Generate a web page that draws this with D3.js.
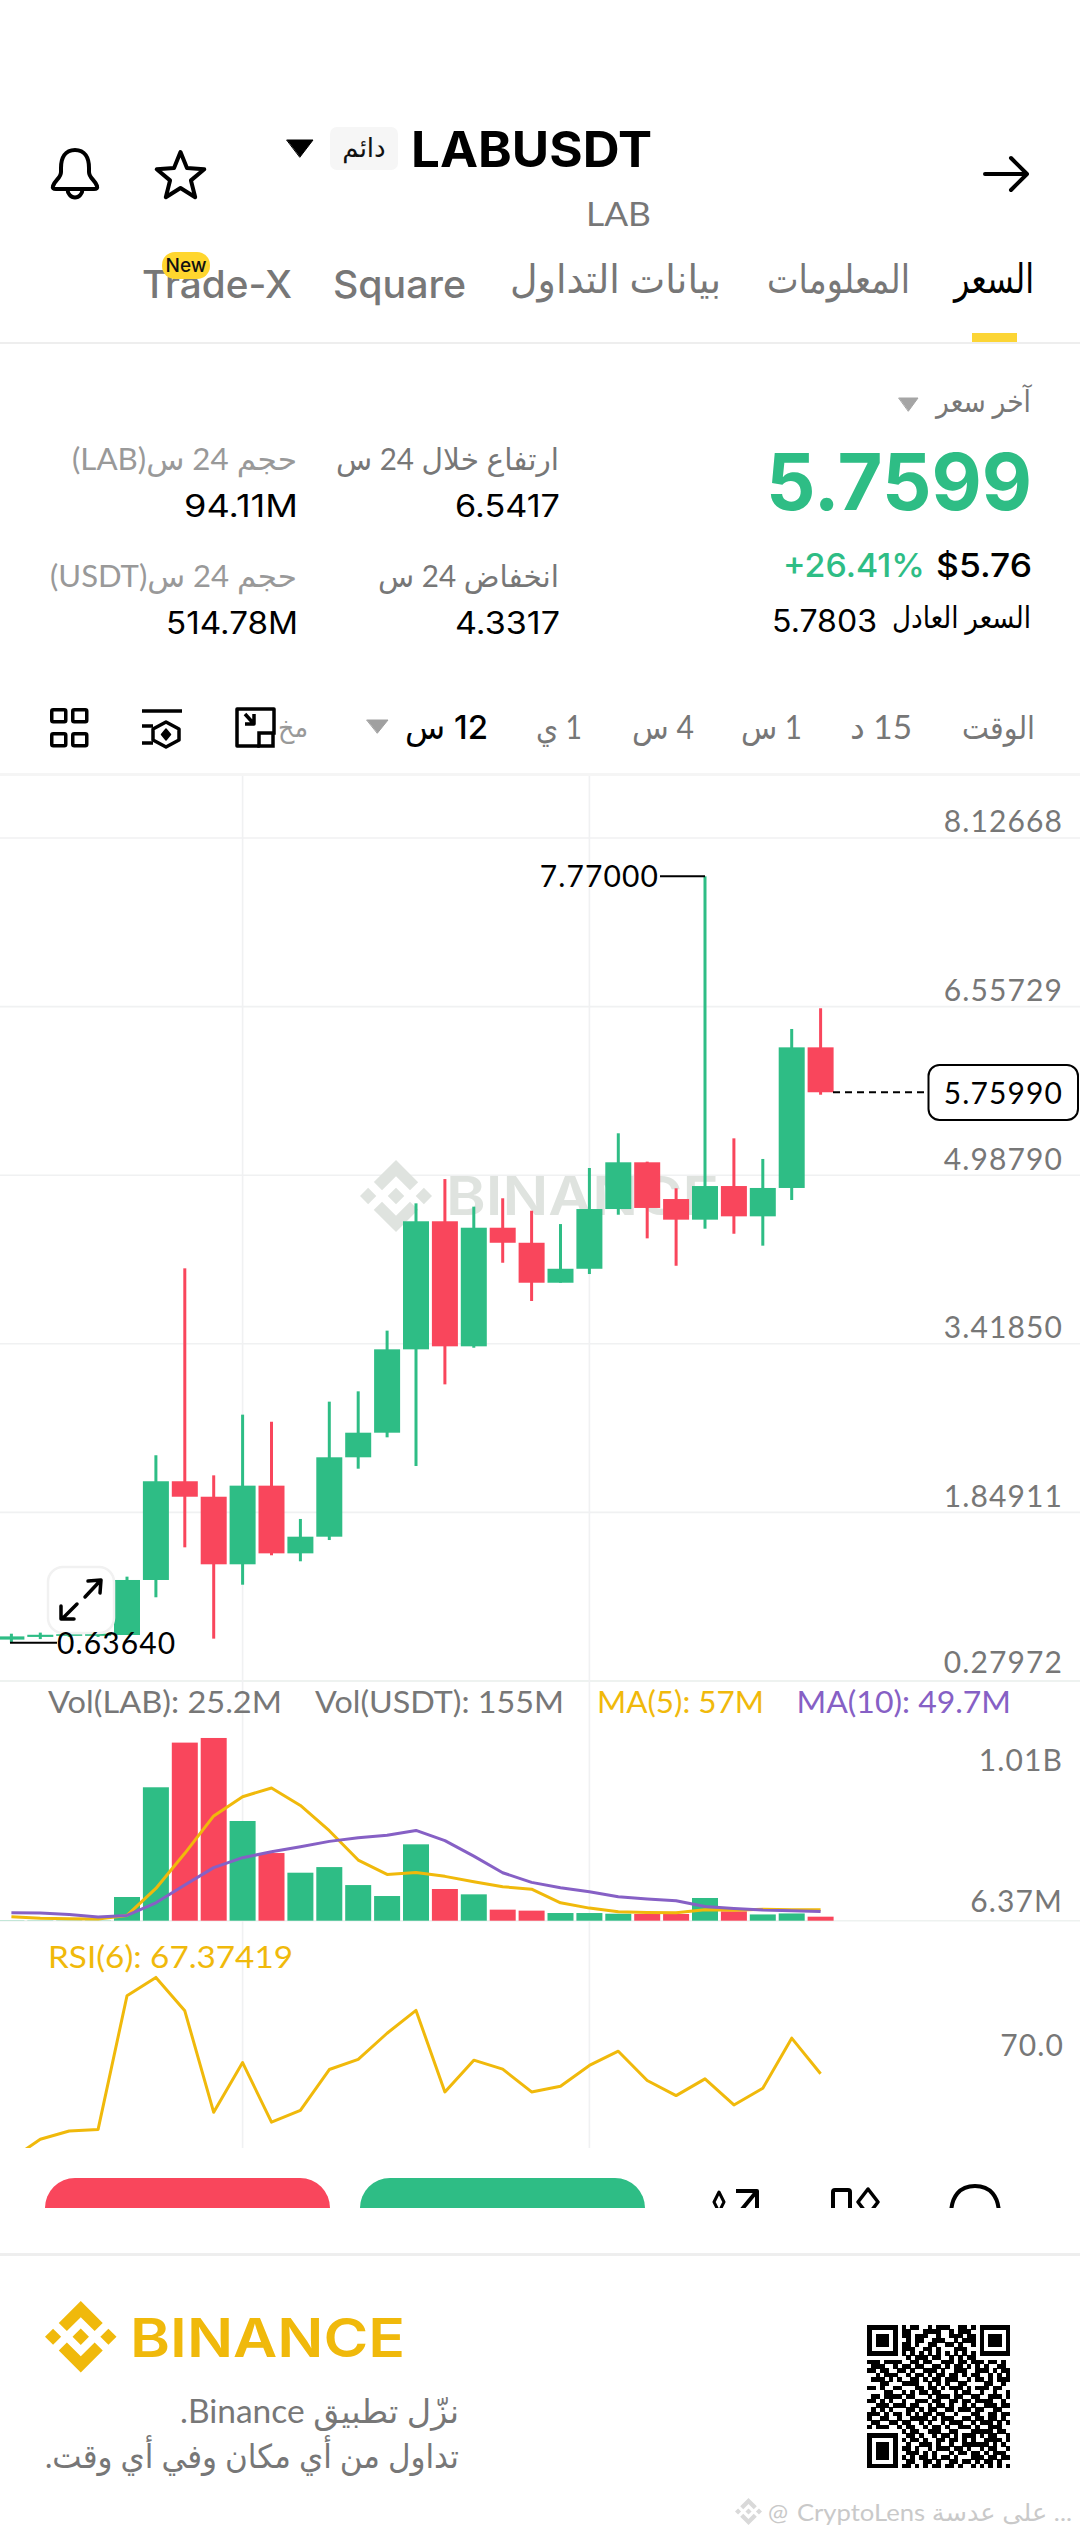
<!DOCTYPE html>
<html lang="ar">
<head>
<meta charset="utf-8">
<title>LABUSDT</title>
<script src="https://cdn.jsdelivr.net/npm/d3@7/dist/d3.min.js"></script>
<style>
html,body{margin:0;padding:0;background:#fff}
svg{display:block}
text{font-family:Lato,"DejaVu Sans",sans-serif}
</style>
</head>
<body>
<svg id="c" width="1080" height="2538" viewBox="0 0 1080 2538"></svg>
<script>
// ---------- data ----------
const candleIndex = d3.range(29);
const opens  = [.665,.690,.700,.700,.708,1.220,2.139,1.995,1.366,2.098,1.468,1.623,2.362,2.591,3.367,4.559,3.395,4.499,4.359,3.987,4.117,4.673,5.108,4.766,4.574,4.887,4.605,4.869,6.178];
const highs  = [.720,.730,.720,.730,1.251,2.381,4.121,2.194,2.759,2.693,1.788,2.880,2.976,3.541,4.726,4.952,4.695,4.773,4.657,4.533,5.055,5.378,5.114,4.866,7.770,5.331,5.139,6.349,6.5417];
const lows   = [.6364,.670,.690,.690,.708,1.059,1.524,.674,1.176,1.450,1.394,1.592,2.256,2.548,2.281,3.041,3.382,4.173,3.817,3.987,4.068,4.620,4.400,4.145,4.490,4.443,4.332,4.757,5.737];
const closes = [.695,.710,.715,.720,1.220,2.139,1.995,1.366,2.098,1.468,1.623,2.362,2.591,3.367,4.559,3.395,4.499,4.359,3.987,4.117,4.673,5.108,4.683,4.574,4.887,4.605,4.869,6.178,5.7599];
const priceTicks = [8.12668,6.55729,4.98790,3.41850,1.84911,0.27972];
const volumes = [8,8,8,8,175,956,1274,1307,716,488,348,388,260,182,550,232,194,85,78,61,61,56,54,54,168,73,51,58,35];
const ma5  = [35,23,21,18,44,236,486,752,889,951,827,647,438,336,350,322,284,248,231,134,96,70,65,63,85,80,87,85,85];
const ma10 = [63,61,51,32,44,134,260,384,455,497,533,571,597,614,649,576,466,348,279,241,213,177,161,149,108,94,82,77,72];
const volTicks = [1010,6.37];
const volTickLabels = ["1.01B","6.37M"];
const rsi6 = [46.4,51.3,53.3,53.7,86.5,91.0,82.8,57.9,70.1,55.5,58.4,68.4,70.9,77.3,82.9,62.9,70.7,68.5,62.9,64.3,69.4,72.9,65.7,62.0,66.1,59.7,63.8,76.1,67.37];
const rsiTicks = [70];
const verticalGridIdx = [8,20];
const tabs = ["السعر","المعلومات","بيانات التداول"];
const intervals = ["الوقت","15 د","1 س","4 س","1 ي"];
const qrRows = [
"111111101011001011100110101111111",
"100000101100011110010111001000001",
"101110101101110010011101101011101",
"101110100101100111001011101011101",
"101110101101001100110100101011101",
"100000101110011010001110001000001",
"111111101010101010101010101111111",
"000000000101110110010101100000000",
"111011110011011001110110111011010",
"011100101101100110101101010100110",
"110110011010011101001110011101011",
"001011100101101011011010110010101",
"011101010011010110111001011010111",
"000110001111001010100110000110010",
"110100110001101101011101011101100",
"000011001010110110001011001001001",
"011011110110001011101100110011101",
"110101001001110110011011011110010",
"001110111011001011010010100111011",
"010101000110101100110111011001100",
"111010110101011011001000110011011",
"100110010011110101110011011011010",
"011001101100101001011100101110101",
"101110010110010110100111010011100",
"000000001011001110011000111110110",
"111111100110100101101011101011001",
"100000101011010011011010100111101",
"101110100100111010010011111101010",
"101110101101001011101101001011001",
"101110100111010100010110110101110",
"101110101010110101101000111011011",
"100000100110011010011011010110100",
"111111101101010110110100101010101"];

// ---------- colours ----------
const GREEN="#2EBD85", RED="#F9465C", GOLD="#F0B90B", PURPLE="#8660C5", GRAY="#777777", LGRAY="#999999", GRID="#F0F1F2";
const LOGO_PATHS=[
"M38.73 53.2l24.59-24.58 24.6 24.6 14.3-14.31L63.32 0 24.41 38.9l14.32 14.3z",
"M0 63.31l14.3-14.31 14.31 14.31-14.31 14.3z",
"M38.73 73.41l24.59 24.59 24.6-24.6 14.31 14.29-38.9 38.91-38.91-38.88-.02-.02z",
"M98 63.31l14.3-14.31 14.31 14.3-14.31 14.32z",
"M77.83 63.3L63.32 48.78 52.59 59.51l-1.24 1.23-2.54 2.54 14.51 14.5 14.51-14.47z"];

const svg=d3.select("#c");
svg.append("rect").attr("width",1080).attr("height",2538).attr("fill","#fff");

function T(str,x,y,o={}){
  const t=svg.append("text").attr("x",x).attr("y",y).text(str)
    .attr("font-size",o.size||30).attr("fill",o.fill||"#000")
    .attr("font-weight",o.weight||400);
  if(o.rtl){t.attr("direction","rtl").attr("text-anchor","start");}
  else t.attr("text-anchor",o.anchor||"start");
  if(o.family)t.style("font-family",o.family);
  if(o.len)t.attr("textLength",o.len).attr("lengthAdjust","spacingAndGlyphs");
  return t;
}
function logo(x,y,s,fill,parent){
  const g=(parent||svg).append("g").attr("transform",`translate(${x},${y}) scale(${s/126.61})`);
  g.selectAll("path").data(LOGO_PATHS).join("path").attr("d",d=>d).attr("fill",fill);
  return g;
}
function P(d,o={}){
  return (o.parent||svg).append("path").attr("d",d).attr("fill",o.fill||"none")
    .attr("stroke",o.stroke===undefined?"#000":o.stroke).attr("stroke-width",o.w||3.5)
    .attr("stroke-linejoin","round").attr("stroke-linecap",o.cap||"round");
}

// ---------- header ----------
P("M75 150C65 150 61 158 61 168L61 172C61 178 55 180 53 186Q52 189 56 189L94 189Q98 189 97 186C95 180 89 178 89 172L89 168C89 158 85 150 75 150Z",{w:4});
P("M67.5 189a7.5 8.5 0 0 0 15 0",{w:4});
const starPts=d3.range(10).map(i=>[i*Math.PI/5,i%2?11:25]);
svg.append("path").attr("transform","translate(180.5,177)")
  .attr("d",d3.lineRadial().curve(d3.curveLinearClosed)(starPts))
  .attr("fill","none").attr("stroke","#000").attr("stroke-width",4).attr("stroke-linejoin","round");
P("M287 140L313 140L300 157Z",{fill:"#000",w:1});
svg.append("rect").attr("x",330).attr("y",127).attr("width",68).attr("height",43).attr("rx",7).attr("fill","#F6F6F6");
T("دائم",364,157,{size:26,anchor:"middle",fill:"#111"});
T("LABUSDT",411,167,{size:49,weight:700,len:241,family:"Inter,Lato,sans-serif"});
T("LAB",586,226,{size:32,fill:GRAY,len:65});
P("M985 174L1026 174M1011 158L1027 174L1011 190",{w:4});

T(tabs[0],1034,293,{size:41,rtl:true,len:80});
T(tabs[1],910,293,{size:39,rtl:true,fill:GRAY,len:143});
T(tabs[2],721,293,{size:39,rtl:true,fill:GRAY,len:211});
T("Square",333,298,{size:38,weight:500,fill:GRAY,len:133,family:"Inter,Lato,sans-serif"});
T("Trade-X",142,298,{size:38,weight:500,fill:GRAY,len:150,family:"Inter,Lato,sans-serif"});
svg.append("rect").attr("x",162).attr("y",252).attr("width",48).attr("height",27).attr("rx",13).attr("fill","#FFD62E");
T("New",186,272,{size:19,anchor:"middle",fill:"#111",weight:500,family:"Inter,Lato,sans-serif"});
svg.append("rect").attr("x",972).attr("y",333).attr("width",45).attr("height",9).attr("fill","#FCD535");
svg.append("rect").attr("x",0).attr("y",342).attr("width",1080).attr("height",2).attr("fill","#EEEEEE");

// ---------- ticker block ----------
T("آخر سعر",1031,412,{size:30,rtl:true,fill:GRAY,len:95});
P("M899 398L918 398L908.5 411Z",{fill:"#A5A5A5",stroke:"#A5A5A5",w:1});
T("5.7599",1032,510,{size:79,weight:700,fill:GREEN,anchor:"end",len:266,family:"Inter,Lato,sans-serif"});
T("+26.41%",783,577,{size:33,fill:GREEN,weight:500,len:142,family:"Inter,Lato,sans-serif"});
T("$5.76",936,577,{size:33,weight:500,len:96,family:"Inter,Lato,sans-serif"});
T("5.7803",772,632,{size:31,len:105,family:"Inter,Lato,sans-serif"});
T("السعر العادل",1031,628,{size:30,rtl:true,len:139});
T("ارتفاع خلال 24 س",559,470,{size:30,rtl:true,fill:GRAY,len:223});
T("حجم 24 س(LAB)",297,470,{size:30,rtl:true,fill:LGRAY,len:225});
T("6.5417",560,517,{size:31,anchor:"end",len:105,family:"Inter,Lato,sans-serif"});
T("94.11M",298,517,{size:31,anchor:"end",len:114,family:"Inter,Lato,sans-serif"});
T("انخفاض 24 س",559,587,{size:30,rtl:true,fill:GRAY,len:181});
T("حجم 24 س(USDT)",297,587,{size:30,rtl:true,fill:LGRAY,len:247});
T("4.3317",560,634,{size:31,anchor:"end",len:105,family:"Inter,Lato,sans-serif"});
T("514.78M",298,634,{size:31,anchor:"end",len:132,family:"Inter,Lato,sans-serif"});

// ---------- interval row ----------
const intRight=[1035,912,802,694,582], intLen=[73,62,61,62,46];
intervals.forEach((s,i)=>T(s,intRight[i],739,{size:32,rtl:true,fill:GRAY,len:intLen[i]}));
T("12 س",488,739,{size:33,rtl:true,weight:500,len:83,family:"Inter,'DejaVu Sans',sans-serif"});
P("M367 720L388 720L377.5 733Z",{fill:"#A0A0A0",stroke:"#A0A0A0",w:1});
T("مخ",308,737,{size:27,rtl:true,fill:LGRAY,len:30});
// grid icon
[[50,708],[71,708],[50,732],[71,732]].forEach(p=>svg.append("rect").attr("x",p[0]+1.75).attr("y",p[1]+1.75).attr("width",14).attr("height",12).attr("rx",1.5).attr("fill","none").attr("stroke","#000").attr("stroke-width",3.5));
// indicator icon
P("M142 711L182 711M142 726L153 726M142 743L153 743",{w:3.5,cap:"butt"});
P("M166 722L179 729L179 740L166 747L153 740L153 729Z",{w:3.5});
P("M166 729L170.5 734.5L166 740L161.5 734.5Z",{fill:"#000",w:1.5});
// layout icon
P("M274 733L274 709L237 709L237 746L258 746",{w:3.5,cap:"square"});
svg.append("rect").attr("x",259).attr("y",733).attr("width",14).attr("height",13).attr("fill","none").attr("stroke","#000").attr("stroke-width",3.5);
P("M245 714L254 724M254 714L254 724L245 724",{w:3.5,cap:"butt"});
svg.append("rect").attr("x",0).attr("y",773).attr("width",1080).attr("height",3).attr("fill","#F5F5F5");

// ---------- scales ----------
const x=d3.scaleLinear().domain([0,28]).range([11.4,820.6]);
const yPrice=d3.scaleLinear().domain([priceTicks[5],priceTicks[0]]).range([1681,838]);
const yVol=d3.scaleLinear().domain([6.37,1010]).range([1920.7,1779.7]);
const yRsi=d3.scaleLinear().domain([67.37419,70]).range([2073.7,2063]);

// ---------- grids ----------
const grid=svg.append("g");
grid.selectAll("line.h").data(priceTicks.slice(0,5)).join("line").attr("class","h")
  .attr("x1",0).attr("x2",1080).attr("y1",d=>yPrice(d)).attr("y2",d=>yPrice(d))
  .attr("stroke",GRID).attr("stroke-width",1.6);
grid.append("rect").attr("x",0).attr("y",1680).attr("width",1080).attr("height",2).attr("fill","#EEF2F0");
grid.selectAll("line.v").data(verticalGridIdx).join("line").attr("class","v")
  .attr("x1",d=>x(d)).attr("x2",d=>x(d)).attr("y1",776).attr("y2",2148)
  .attr("stroke",GRID).attr("stroke-width",1.6);
grid.append("line").attr("x1",0).attr("x2",1080).attr("y1",yVol(6.37)).attr("y2",yVol(6.37)).attr("stroke","#EEF2F0").attr("stroke-width",1.6);

// watermark
logo(360,1160,72,"#DFE3DF");
T("BINANCE",446,1215,{size:53,weight:600,fill:"#DFE3DF",len:273,family:"Inter,Lato,sans-serif"});

// ---------- candles ----------
const cg=svg.append("g");
const colorOf=i=>closes[i]>=opens[i]?GREEN:RED;
cg.selectAll("rect.w").data(candleIndex).join("rect").attr("class","w")
  .attr("x",i=>x(i)-1.5).attr("width",3)
  .attr("y",i=>yPrice(highs[i])).attr("height",i=>yPrice(lows[i])-yPrice(highs[i]))
  .attr("fill",colorOf);
cg.selectAll("rect.b").data(candleIndex).join("rect").attr("class","b")
  .attr("x",i=>x(i)-13).attr("width",26)
  .attr("y",i=>yPrice(Math.max(opens[i],closes[i])))
  .attr("height",i=>Math.max(1,Math.abs(yPrice(opens[i])-yPrice(closes[i]))))
  .attr("fill",colorOf);

// ---------- price axis ----------
const axisFont=g=>g.call(s=>s.select(".domain").remove())
  .selectAll("text").attr("font-size",30).attr("fill",GRAY).attr("letter-spacing",1.1)
  .style("font-family","Lato,sans-serif");
const pa=svg.append("g").attr("transform","translate(1063,0)")
  .call(d3.axisLeft(yPrice).tickValues(priceTicks).tickSize(0).tickPadding(0).tickFormat(d3.format(".5f")));
axisFont(pa);
pa.selectAll("text").attr("dy",(d,i)=>i===5?-9:-6.2);

// ---------- high / low / last labels ----------
const hiIdx=d3.maxIndex(highs);
const loIdx=d3.minIndex(lows);
svg.append("line").attr("x1",660).attr("x2",x(hiIdx)).attr("y1",yPrice(highs[hiIdx])).attr("y2",yPrice(highs[hiIdx])).attr("stroke","#000").attr("stroke-width",2);
T(d3.format(".5f")(highs[hiIdx]),659,887,{size:30,anchor:"end"}).attr("letter-spacing",1.1);

const lastP=closes[28];
svg.append("line").attr("x1",833).attr("x2",925).attr("y1",yPrice(lastP)).attr("y2",yPrice(lastP)).attr("stroke","#000").attr("stroke-width",2).attr("stroke-dasharray","7,5");
svg.append("rect").attr("x",928.5).attr("y",1065).attr("width",149.5).attr("height",55).attr("rx",11).attr("fill","#fff").attr("stroke","#000").attr("stroke-width",2);
T(d3.format(".5f")(lastP),1063,1104,{size:30,anchor:"end"}).attr("letter-spacing",1.1);

// expand button
svg.append("rect").attr("x",48).attr("y",1567).attr("width",66).attr("height",66).attr("rx",15).attr("fill","#fff").attr("fill-opacity",.93).attr("stroke","#F1F1F1").attr("stroke-width",2.5);
P("M85 1597L100 1581M88 1581L101 1580L100 1593M77 1604L62 1619M61 1606L61 1619L74 1619",{w:3.5});
svg.append("line").attr("x1",10).attr("x2",57).attr("y1",yPrice(lows[loIdx])).attr("y2",yPrice(lows[loIdx])).attr("stroke","#000").attr("stroke-width",2);
T(d3.format(".5f")(lows[loIdx]),57,1654,{size:30}).attr("letter-spacing",1.1);

// ---------- volume legend ----------
T("Vol(LAB): 25.2M",48,1713,{size:30,fill:GRAY,len:234});
T("Vol(USDT): 155M",315,1713,{size:30,fill:GRAY,len:249});
T("MA(5): 57M",597,1713,{size:30,fill:GOLD,len:167});
T("MA(10): 49.7M",796.5,1713,{size:30,fill:PURPLE,len:214.5});

// ---------- volume bars ----------
svg.append("g").selectAll("rect").data(candleIndex).join("rect")
  .attr("x",i=>x(i)-13).attr("width",26)
  .attr("y",i=>yVol(volumes[i])).attr("height",i=>yVol(6.37)-yVol(volumes[i]))
  .attr("fill",colorOf);
const volLine=d3.line().x((d,i)=>x(i)).y(d=>yVol(d));
svg.append("path").attr("d",volLine(ma5)).attr("fill","none").attr("stroke",GOLD).attr("stroke-width",3).attr("stroke-linejoin","round");
svg.append("path").attr("d",volLine(ma10)).attr("fill","none").attr("stroke",PURPLE).attr("stroke-width",3).attr("stroke-linejoin","round");
const va=svg.append("g").attr("transform","translate(1063,0)")
  .call(d3.axisLeft(yVol).tickValues(volTicks).tickSize(0).tickPadding(0).tickFormat((d,i)=>volTickLabels[i]));
axisFont(va);
va.selectAll("text").attr("dy",-9);

// ---------- RSI ----------
T("RSI(6): 67.37419",48,1968,{size:30,fill:GOLD,len:245});
svg.append("clipPath").attr("id","rsiClip").append("rect").attr("x",0).attr("y",1970).attr("width",1080).attr("height",178);
svg.append("path").attr("clip-path","url(#rsiClip)")
  .attr("d",d3.line().x((d,i)=>x(i)).y(d=>yRsi(d))(rsi6))
  .attr("fill","none").attr("stroke",GOLD).attr("stroke-width",3).attr("stroke-linejoin","round");
const ra=svg.append("g").attr("transform","translate(1064,0)")
  .call(d3.axisLeft(yRsi).tickValues(rsiTicks).tickSize(0).tickPadding(0).tickFormat(d3.format(".1f")));
axisFont(ra);
ra.selectAll("text").attr("dy",-8);

// ---------- action bar (cropped) ----------
svg.append("clipPath").attr("id","barClip").append("rect").attr("x",0).attr("y",2170).attr("width",1080).attr("height",38);
const bar=svg.append("g").attr("clip-path","url(#barClip)");
bar.append("rect").attr("x",45).attr("y",2178).attr("width",285).attr("height",70).attr("rx",30).attr("fill",RED);
bar.append("rect").attr("x",360).attr("y",2178).attr("width",285).attr("height",70).attr("rx",30).attr("fill",GREEN);
P("M719 2192L724 2202L719 2212L714 2202Z",{parent:bar,w:3});
P("M736 2191L757 2191L757 2212M757 2191L738 2214",{parent:bar,w:4,cap:"butt"});
bar.append("rect").attr("x",833).attr("y",2190).attr("width",17).attr("height",26).attr("rx",2).attr("fill","none").attr("stroke","#000").attr("stroke-width",4);
P("M868 2189L878 2202L868 2215L858 2202Z",{parent:bar,w:3.5});
P("M951 2215C951 2196 960 2186 975 2186C990 2186 999 2196 999 2215",{parent:bar,w:4});

// ---------- footer ----------
svg.append("rect").attr("x",0).attr("y",2253).attr("width",1080).attr("height",3).attr("fill","#EEEEEE");
logo(45,2301,71.5,GOLD);
T("BINANCE",130,2357,{size:54,weight:600,fill:GOLD,len:275,family:"Inter,Lato,sans-serif"});
T("نزّل تطبيق Binance.",459,2423,{size:33,rtl:true,fill:GRAY,len:279});
T("تداول من أي مكان وفي أي وقت.",459,2468,{size:33,rtl:true,fill:GRAY,len:414});

// QR
const qrN=qrRows.length;
const qx=d3.scaleBand().domain(d3.range(qrN)).range([867,1010]);
const qy=d3.scaleBand().domain(d3.range(qrN)).range([2325,2468]);
const qrCells=qrRows.flatMap((r,ry)=>r.split("").map((c,cx)=>({c,cx,ry}))).filter(d=>d.c==="1");
svg.append("g").attr("shape-rendering","crispEdges").selectAll("rect").data(qrCells).join("rect")
  .attr("x",d=>qx(d.cx)).attr("y",d=>qy(d.ry)).attr("width",qx.bandwidth()+.3).attr("height",qy.bandwidth()+.3).attr("fill","#000");

// source mark
logo(735,2498,27,"#D9D9D9");
T("@",768,2521,{size:24,fill:"#C9C9C9"});
T("... على عدسة CryptoLens",1072,2521,{size:24,rtl:true,fill:"#C9C9C9",len:275});
</script>
</body>
</html>
